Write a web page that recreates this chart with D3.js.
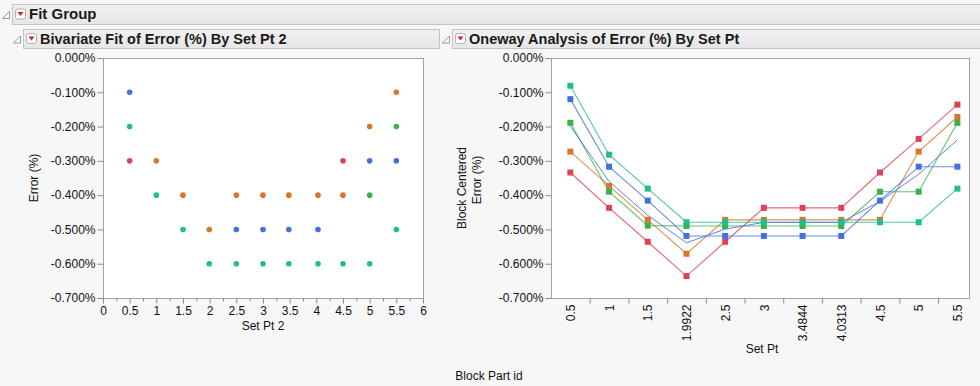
<!DOCTYPE html>
<html><head><meta charset="utf-8">
<script src="https://cdn.jsdelivr.net/npm/d3@7"></script>
<style>
html,body{margin:0;padding:0;background:#f7f7f7;}
svg{display:block;font-family:"Liberation Sans",Arial,sans-serif;}
</style></head>
<body><svg id="chart" width="980" height="386"></svg>
<script>
// ---------- data ----------
const setPtLabels = ["0.5","1","1.5","1.9922","2.5","3","3.4844","4.0313","4.5","5","5.5"];
const setPtValues = [0.5,1,1.5,1.9922,2.5,3,3.4844,4.0313,4.5,5,5.5];
const blocks = ["1","2","3","4","5"];
const blockColors = ["#db4455","#d4782b","#3cb04a","#22bd8e","#4270dd"];

// Bivariate (left) points: Set Pt 2, Error (%), block
const leftX = [0.5,0.5,0.5, 1,1, 1.5,1.5, 1.9922,1.9922, 2.5,2.5,2.5, 3,3,3, 3.4844,3.4844,3.4844, 4.0313,4.0313,4.0313, 4.5,4.5,4.5, 5,5,5,5, 5.5,5.5,5.5,5.5];
const leftY = [-0.1,-0.2,-0.3, -0.3,-0.4, -0.4,-0.5, -0.5,-0.6, -0.4,-0.5,-0.6, -0.4,-0.5,-0.6, -0.4,-0.5,-0.6, -0.4,-0.5,-0.6, -0.3,-0.4,-0.6, -0.2,-0.3,-0.4,-0.6, -0.1,-0.2,-0.3,-0.5];
const leftBlock = ["5","4","1", "2","4", "2","4", "2","4", "2","5","4", "2","5","4", "2","5","4", "2","5","4", "1","2","4", "2","5","3","4", "2","3","5","4"];

// Oneway (right) block-centered error by Set Pt, one array per block
const block1 = [-0.334,-0.437,-0.536,-0.636,-0.536,-0.437,-0.437,-0.437,-0.334,-0.236,-0.136];
const block2 = [-0.273,-0.373,-0.472,-0.571,-0.472,-0.472,-0.472,-0.472,-0.472,-0.273,-0.172];
const block3 = [-0.189,-0.390,-0.489,-0.490,-0.490,-0.490,-0.490,-0.490,-0.390,-0.390,-0.189];
const block4 = [-0.081,-0.282,-0.381,-0.479,-0.479,-0.479,-0.479,-0.479,-0.479,-0.479,-0.381];
const block5 = [-0.120,-0.317,-0.416,-0.519,-0.519,-0.519,-0.519,-0.519,-0.416,-0.317,-0.317];
const blockSeries = [block1,block2,block3,block4,block5];

const yTicks = [0,-0.1,-0.2,-0.3,-0.4,-0.5,-0.6,-0.7];
const leftXTicks = [0,0.5,1,1.5,2,2.5,3,3.5,4,4.5,5,5.5,6];
const leftXMinor = [0.25,0.75,1.25,1.75,2.25,2.75,3.25,3.75,4.25,4.75,5.25,5.75];

// ---------- helpers ----------
const svg = d3.select("#chart");
const color = d3.scaleOrdinal(blocks, blockColors);
const fmtPct = v => (v < -1e-9 ? "-" : "") + Math.abs(v).toFixed(3) + "%";

function header(x, y, w, h, label, fs){
  const g = svg.append("g");
  const grad = "hg" + Math.round(x) + "_" + Math.round(y);
  const def = svg.append("defs").append("linearGradient").attr("id", grad).attr("x1",0).attr("y1",0).attr("x2",0).attr("y2",1);
  def.append("stop").attr("offset","0%").attr("stop-color","#f1f1f1");
  def.append("stop").attr("offset","100%").attr("stop-color","#e6e6e6");
  g.append("rect").attr("x", x+0.5).attr("y", y+0.5).attr("width", w).attr("height", h)
    .attr("fill", `url(#${grad})`).attr("stroke", "#c4c4c4");
  g.append("path").attr("d", `M${x-9.5},${y+h/2+4.5} L${x-2.5},${y+h/2+4.5} L${x-2.5},${y+h/2-2.5} Z`)
    .attr("fill","#ffffff").attr("stroke","#8a8a8a").attr("stroke-width",0.9);
  g.append("rect").attr("x", x+3.5).attr("y", y+h/2-5).attr("width", 10).attr("height", 10).attr("rx",2)
    .attr("fill","#ffffff").attr("stroke","#b0b0b0");
  g.append("path").attr("d", `M${x+5.5},${y+h/2-2} L${x+11.5},${y+h/2-2} L${x+8.5},${y+h/2+2} Z`).attr("fill","#d8202a");
  g.append("text").attr("x", x+17).attr("y", y+h/2+5).attr("font-size", fs).attr("font-weight","bold")
    .attr("fill","#1a1a1a").text(label);
}

header(12, 4, 968, 20, "Fit Group", "15px");
header(23, 29, 416, 19, "Bivariate Fit of Error (%) By Set Pt 2", "14.5px");
header(452, 29, 528, 19, "Oneway Analysis of Error (%) By Set Pt", "14.5px");

function styleAxis(g){
  g.select(".domain").remove();
  g.selectAll(".tick line").attr("stroke","#8c8c8c");
  g.selectAll(".tick text").attr("fill","#111").attr("font-size","12px").attr("font-family",'"Liberation Sans",Arial,sans-serif');
}

// ---------- left: bivariate ----------
const L = {x0:103, x1:423, y0:58, y1:298};
const xL = d3.scaleLinear().domain([0,6]).range([L.x0, L.x1]);
const yL = d3.scaleLinear().domain([-0.7,0]).range([L.y1, L.y0]);

svg.append("rect").attr("x",L.x0+0.5).attr("y",L.y0+0.5).attr("width",L.x1-L.x0).attr("height",L.y1-L.y0)
  .attr("fill","#fff").attr("stroke","#a3a3a3");

svg.append("g").attr("transform",`translate(${L.x0+0.5},0)`)
  .call(d3.axisLeft(yL).tickValues(yTicks).tickFormat(fmtPct).tickSize(6).tickPadding(2)).call(styleAxis);
svg.append("g").attr("transform",`translate(0,${L.y1+0.5})`)
  .call(d3.axisBottom(xL).tickValues(leftXTicks).tickFormat(d3.format("")).tickSize(5).tickPadding(3)).call(styleAxis);
svg.append("g").attr("transform",`translate(0,${L.y1+0.5})`)
  .call(d3.axisBottom(xL).tickValues(leftXMinor).tickFormat("").tickSize(3)).call(styleAxis);

svg.append("g").selectAll("circle").data(leftX.map((x,i)=>({x, y:leftY[i], b:leftBlock[i]})))
  .join("circle").attr("cx",d=>xL(d.x)).attr("cy",d=>yL(d.y)).attr("r",2.8)
  .attr("fill",d=>color(d.b));

svg.append("text").attr("transform",`translate(38,${(L.y0+L.y1)/2}) rotate(-90)`).attr("text-anchor","middle")
  .attr("font-size","12px").attr("fill","#111").text("Error (%)");
svg.append("text").attr("x",(L.x0+L.x1)/2).attr("y",330).attr("text-anchor","middle")
  .attr("font-size","12px").attr("fill","#111").text("Set Pt 2");

// ---------- right: oneway ----------
const R = {x0:551, x1:969, y0:58, y1:298};
const xR = d3.scaleLinear().domain([-0.5, 10.3]).range([R.x0, R.x1]);
const yR = d3.scaleLinear().domain([-0.7,0]).range([R.y1, R.y0]);
const idx = d3.range(setPtLabels.length);

svg.append("rect").attr("x",R.x0+0.5).attr("y",R.y0+0.5).attr("width",R.x1-R.x0).attr("height",R.y1-R.y0)
  .attr("fill","#fff").attr("stroke","#a3a3a3");

svg.append("g").attr("transform",`translate(${R.x0+0.5},0)`)
  .call(d3.axisLeft(yR).tickValues(yTicks).tickFormat(fmtPct).tickSize(6).tickPadding(2)).call(styleAxis);
svg.append("g").attr("transform",`translate(0,${R.y1+0.5})`)
  .call(d3.axisBottom(xR).tickValues(idx.slice(0,-1).map(i=>i+0.5)).tickFormat("").tickSize(5)).call(styleAxis);
const xLab = svg.append("g").attr("transform",`translate(0,${R.y1+0.5})`)
  .call(d3.axisBottom(xR).tickValues(idx).tickFormat(i=>setPtLabels[i]).tickSize(0)).call(styleAxis);
xLab.selectAll(".tick text").attr("transform","translate(0,3) rotate(-90)").attr("text-anchor","end")
  .attr("x",-3).attr("y",0).attr("dy","0.35em");

svg.append("clipPath").attr("id","rclip").append("rect")
  .attr("x",R.x0+1).attr("y",R.y0+1).attr("width",R.x1-R.x0-1).attr("height",R.y1-R.y0-1);
const plotR = svg.append("g").attr("clip-path","url(#rclip)");

const line = d3.line().x((d,i)=>xR(i)).y(d=>yR(d));
plotR.selectAll("path.blk").data(blockSeries).join("path").attr("class","blk")
  .attr("d",line).attr("fill","none").attr("stroke",(d,i)=>color(blocks[i])).attr("stroke-width",1.1).attr("stroke-opacity",0.8);

// connect-means line
const means = idx.map(i => d3.mean(blockSeries, s => s[i]));
plotR.append("path").attr("d",line(means)).attr("fill","none").attr("stroke","#4a78e8").attr("stroke-width",1).attr("stroke-opacity",0.9);

blockSeries.forEach((s,k)=>{
  plotR.append("g").selectAll("rect").data(s).join("rect")
    .attr("x",(d,i)=>xR(i)-3).attr("y",d=>yR(d)-3).attr("width",6).attr("height",6)
    .attr("fill",color(blocks[k]));
});

svg.append("text").attr("transform",`translate(466,188) rotate(-90)`).attr("text-anchor","middle")
  .attr("font-size","12px").attr("fill","#111").text("Block Centered");
svg.append("text").attr("transform",`translate(481,180) rotate(-90)`).attr("text-anchor","middle")
  .attr("font-size","12px").attr("fill","#111").text("Error (%)");

svg.append("text").attr("x",762).attr("y",353).attr("text-anchor","middle")
  .attr("font-size","12px").attr("fill","#111").text("Set Pt");

svg.append("text").attr("x",489).attr("y",380).attr("text-anchor","middle")
  .attr("font-size","12px").attr("fill","#111").text("Block Part id");
</script></body></html>
